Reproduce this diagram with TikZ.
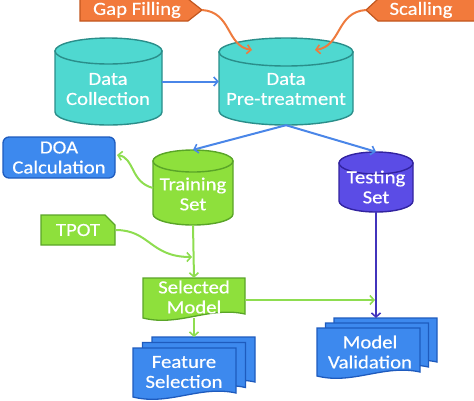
\documentclass[tikz,border=0pt]{standalone}
\usepackage{fontspec}
\setmainfont{Carlito}[FakeStretch=1.12,FakeBold=0.4]
\usetikzlibrary{arrows.meta,shapes.misc,calc}
\definecolor{tealF}{HTML}{4FD8D0}
\definecolor{tealD}{HTML}{2A8E8A}
\definecolor{orgF}{HTML}{F27A3C}
\definecolor{orgD}{HTML}{C2561E}
\definecolor{bluF}{HTML}{3D89EE}
\definecolor{bluD}{HTML}{1E5BBE}
\definecolor{grnF}{HTML}{8EE03C}
\definecolor{grnD}{HTML}{5AA528}
\definecolor{grnL}{HTML}{8EDD50}
\definecolor{purF}{HTML}{5B4CE6}
\definecolor{purD}{HTML}{3223A0}
\definecolor{bluL}{HTML}{4A86E8}
\definecolor{orgL}{HTML}{EE7B3E}
\newcommand\mycyl[8]{%
  \pgfmathsetmacro\cxx{(#2+#3)/2}%
  \pgfmathsetmacro\rxx{(#3-#2)/2}%
  \pgfmathsetmacro\cyy{-(#4+#5)/2}%
  \pgfmathsetmacro\cylw{#3-#2}%
  \pgfmathsetmacro\cylh{#5-#4}%
  \filldraw[fill=#7,draw=#8,line width=1.4pt] (#2,-#4-#6) -- (#2,-#5+#6) arc[start angle=180,end angle=360,x radius=\rxx,y radius=#6] -- (#3,-#4-#6) -- cycle;
  \filldraw[fill=#7,draw=#8,line width=1.4pt] (\cxx,-#4-#6) ellipse[x radius=\rxx,y radius=#6];
  \node[inner sep=0,minimum width=\cylw pt,minimum height=\cylh pt] (#1) at (\cxx,\cyy) {};
}
\newcommand\mydoc[6]{%
  \pgfmathsetmacro\docwid{#3-#1}%
  \filldraw[fill=#5,draw=#6,line width=1.3pt] (#1,-#2) -- (#3,-#2) -- (#3,{-(#4-4)})
    .. controls ({#1+0.65*\docwid},{-(#4-12)}) and ({#1+0.35*\docwid},{-(#4+9)}) .. (#1,-#4) -- cycle;
}
\tikzset{
  lbl/.style={text=white,font=\fontsize{18.5}{20}\selectfont,align=center,inner sep=0},
  conn/.style={line width=2pt,-{Straight Barb[length=4pt,width=9pt,line width=1.6pt]}},
}
\begin{document}
\begin{tikzpicture}[x=1pt,y=1pt]
\useasboundingbox (0,0) rectangle (474,-400);
% orange pentagons
\filldraw[fill=orgF,draw=orgD,line width=1.2pt] (80,1) -- (188,1) -- (202,-10) -- (188,-21) -- (80,-21) -- cycle;
\node[lbl] (gf) at (137,-10) {Gap Filling};
\coordinate (gft) at (202,-10);
\filldraw[fill=orgF,draw=orgD,line width=1.2pt] (476,1) -- (378,1) -- (366,-10) -- (378,-21) -- (476,-21) -- cycle;
\node[lbl] (sc) at (421,-10) {Scalling};
\coordinate (sct) at (366,-10);
% cylinders
\mycyl{dc}{55}{162}{38}{125}{13}{tealF}{tealD}
\node[lbl] (dct) at (108,-89) {Data\\Collection};
\mycyl{pt}{219}{353}{38}{125}{14}{tealF}{tealD}
\node[lbl] (ptt) at (286,-89) {Data\\Pre-treatment};
\mycyl{tr}{153}{233}{150}{225}{11}{grnF}{grnD}
\node[lbl] (trt) at (193,-194) {Training\\Set};
\mycyl{ts}{339}{413}{152}{212}{11}{purF}{purD}
\node[lbl] (tst) at (376,-187) {Testing\\Set};
% orange curves
\coordinate (gfe) at (252,-50);
\coordinate (sce) at (315,-50);
\draw[conn,orgL] (gft) .. controls (232,-12) and (226,-46) .. (gfe);
\draw[conn,orgL] (sct) .. controls (336,-12) and (342,-46) .. (sce);
% DOA and TPOT
\node[draw=bluD,fill=bluF,line width=1.3pt,rounded corners=6pt,minimum width=112pt,minimum height=41pt,lbl] (doa) at (59,-157.5) {DOA\\Calculation};
\node[chamfered rectangle,chamfered rectangle corners=north east,chamfered rectangle xsep=5pt,chamfered rectangle ysep=5pt,draw=grnD,fill=grnF,line width=1.3pt,minimum width=74pt,minimum height=30pt,lbl] (tp) at (78,-230) {TPOT};
% selected model
\mydoc{143}{278}{245}{318}{grnF}{grnD}
\node[inner sep=0,minimum width=102pt,minimum height=40pt] (sm) at (194,-298) {};
\node[lbl] (smt) at (194,-297) {Selected\\Model};
% feature selection
\mydoc{152}{337}{255}{386}{bluF}{bluD}
\mydoc{142.5}{342.5}{245.5}{391.5}{bluF}{bluD}
\mydoc{133}{348}{236}{397}{bluF}{bluD}
\node[inner sep=0,minimum width=122pt,minimum height=60pt,anchor=north west] (fs) at (133,-337) {};
\node[lbl] (fst) at (184,-372) {Feature\\Selection};
% model validation
\mydoc{334}{318}{437}{366}{bluF}{bluD}
\mydoc{325.5}{323}{428.5}{371}{bluF}{bluD}
\mydoc{317}{328}{420}{376}{bluF}{bluD}
\node[inner sep=0,minimum width=120pt,minimum height=58pt,anchor=north west] (mv) at (317,-318) {};
\node[lbl] (mvt) at (370,-352) {Model\\Validation};
% connectors
\draw[conn,bluL] (dc.east) -- (pt.west);
\draw[conn,bluL] (pt.south) -- (tr.north);
\draw[conn,bluL] (pt.south) -- (ts.north);
\coordinate (doae) at (117,-155);
\coordinate (trl) at (153,-188);
\draw[conn,grnL] (trl) .. controls (130,-182) and (135,-158) .. (doae);
\draw[conn,grnL] (tr.south) -- (sm.north);
\coordinate (j1) at (192,-257);
\draw[conn,grnL] (tp.east) .. controls (150,-230) and (150,-257) .. (j1);
\coordinate (j2) at (375,-300);
\draw[conn,purD!60!purF,line width=2pt] (ts.south) -- (ts.south |- mv.north);
\draw[conn,grnL] (sm.east |- j2) -- (j2);
\draw[conn,grnL] (sm.south) -- (sm.south |- fs.north);
\end{tikzpicture}
\end{document}
